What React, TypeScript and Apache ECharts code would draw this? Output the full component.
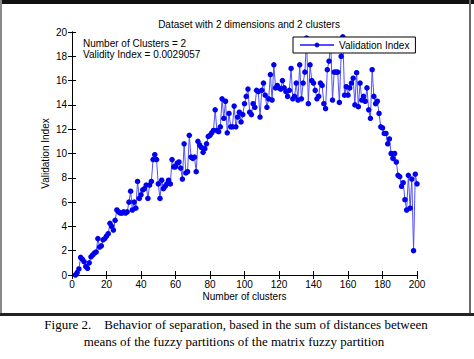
import React, { useEffect, useRef } from "react";
import * as echarts from "echarts";

const titleText = "Dataset with 2 dimensions and 2 clusters";
const seriesName = "Validation Index";
const xAxisName = "Number of clusters";
const yAxisName = "Validation Index";
const noteLines = ["Number of Clusters = 2", "Validity Index = 0.0029057"];
const captionLines = [
  "Figure 2.    Behavior of separation, based in the sum of distances between",
  "means of the fuzzy partitions of the matrix fuzzy partition",
];
const xStart = 2;
// values for number of clusters 2..200
const validationValues = [
  0.0, 0.2, 0.5, 1.45, 1.3, 1.1, 0.7, 0.55, 1.0, // 2-10
  1.5, 1.65, 1.8, 1.9, 3.0, 2.3, 2.4, 2.9, 3.0, 3.2, // 11-20
  3.4, 4.25, 4.0, 3.7, 4.5, 5.35, 5.2, 5.1, 5.1, 5.2, // 21-30
  5.1, 5.2, 6.0, 6.9, 5.35, 6.0, 5.5, 7.7, 6.3, 6.6, // 31-40
  7.0, 7.1, 7.4, 6.3, 7.4, 7.7, 9.5, 9.9, 9.5, 7.5, // 41-50
  6.3, 7.8, 7.1, 7.3, 7.5, 7.8, 7.5, 9.5, 8.9, 8.9, // 51-60
  9.2, 9.3, 8.8, 7.9, 10.8, 8.4, 8.5, 11.5, 9.7, 9.6, // 61-70
  9.7, 8.5, 11.0, 10.7, 10.5, 10.1, 10.4, 10.8, 11.4, 11.5, // 71-80
  11.7, 11.9, 13.6, 11.9, 11.8, 12.2, 14.5, 12.9, 14.3, 11.7, // 81-90
  13.3, 12.2, 12.2, 13.9, 12.2, 13.0, 13.4, 12.6, 13.2, 14.1, // 91-100
  14.7, 15.3, 13.4, 13.2, 14.1, 13.8, 15.2, 15.1, 13.0, 15.2, // 101-110
  15.8, 14.8, 13.8, 14.5, 16.5, 14.4, 17.3, 15.4, 15.6, 15.4, // 111-120
  15.3, 16.0, 15.4, 15.1, 14.7, 15.2, 17.0, 14.5, 14.7, 15.8, // 121-130
  14.4, 17.3, 14.5, 15.8, 16.7, 19.5, 14.1, 17.3, 16.0, 15.8, // 131-140
  15.2, 14.5, 14.7, 15.8, 15.6, 14.1, 13.7, 16.9, 17.6, 19.2, // 141-150
  14.4, 16.7, 16.7, 16.7, 14.2, 18.0, 19.6, 14.8, 15.5, 14.8, // 151-160
  15.4, 15.8, 16.2, 14.0, 16.65, 13.85, 15.8, 14.4, 14.7, 14.3, // 161-170
  15.4, 13.6, 12.9, 16.9, 14.7, 14.1, 14.3, 13.3, 12.2, 12.1, // 171-180
  11.65, 11.65, 10.8, 11.2, 10.0, 9.6, 10.0, 9.3, 8.2, 8.1, // 181-190
  7.3, 7.6, 6.2, 5.35, 8.2, 5.5, 7.9, 2.0, 8.3, 7.5, // 191-200
];

export default function App() {
  const ref = useRef<HTMLDivElement>(null);
  useEffect(() => {
    document.body.style.margin = "0";
    const chart = echarts.init(ref.current!, null, { renderer: "svg" });
    const data = validationValues.map((v, i) => [xStart + i, v]);
    const font = "Liberation Sans, Arial, sans-serif";
    const axisCommon = {
      min: 0,
      axisLine: { show: true, lineStyle: { color: "#000", width: 1 } },
      axisTick: { show: true, inside: true, length: 4, lineStyle: { color: "#000" } },
      splitLine: { show: false },
    };
    chart.setOption({
      animation: false,
      backgroundColor: "#fff",
      textStyle: { fontFamily: font },
      title: {
        text: titleText,
        left: 244,
        top: 14,
        textAlign: "center",
        textStyle: { fontSize: 10, fontWeight: "normal", color: "#000", fontFamily: font },
      },
      grid: { left: 72, right: 57, top: 32, bottom: 84, containLabel: false },
      legend: {
        data: [seriesName],
        left: 293,
        top: 37,
        width: 122,
        height: 16,
        padding: [3, 6, 3, 6],
        itemWidth: 34,
        itemHeight: 6,
        itemGap: 4,
        borderColor: "#000",
        borderWidth: 1,
        backgroundColor: "#fff",
        borderRadius: 0,
        textStyle: { fontSize: 10, color: "#000", fontFamily: font },
      },
      xAxis: [
        {
          ...axisCommon,
          type: "value",
          max: 200,
          interval: 20,
          name: xAxisName,
          nameLocation: "middle",
          nameGap: 16,
          nameMoveOverlap: false,
          nameTextStyle: { fontSize: 10, color: "#000", fontFamily: font },
          axisLabel: { fontSize: 10, color: "#000", margin: 4, fontFamily: font },
        },
        {
          ...axisCommon,
          type: "value",
          position: "top",
          max: 200,
          interval: 20,
          axisLabel: { show: false },
        },
      ],
      yAxis: [
        {
          ...axisCommon,
          type: "value",
          max: 20,
          interval: 2,
          name: yAxisName,
          nameLocation: "middle",
          nameGap: 22,
          nameMoveOverlap: false,
          nameTextStyle: { fontSize: 10, color: "#000", fontFamily: font },
          axisLabel: { fontSize: 10, color: "#000", margin: 5, fontFamily: font },
        },
        {
          ...axisCommon,
          type: "value",
          position: "right",
          max: 20,
          interval: 2,
          axisLabel: { show: false },
        },
      ],
      series: [
        {
          name: seriesName,
          type: "line",
          data,
          symbol: "circle",
          symbolSize: 5.5,
          showSymbol: true,
          clip: true,
          lineStyle: { color: "#5050ff", width: 1 },
          itemStyle: { color: "#0000ee" },
          z: 2,
        },
      ],
      graphic: [
        { type: "rect", shape: { x: 0, y: 0, width: 474, height: 4 }, style: { fill: "#111" }, z: 100 },
        { type: "rect", shape: { x: 0, y: 0, width: 2, height: 316 }, style: { fill: "#8a8a8a" }, z: 100 },
        { type: "rect", shape: { x: 469, y: 0, width: 2, height: 316 }, style: { fill: "#6a6a6a" }, z: 100 },
        { type: "rect", shape: { x: 0, y: 313, width: 474, height: 3 }, style: { fill: "#222" }, z: 100 },
        {
          type: "text",
          left: 83,
          top: 38,
          z: 100,
          style: { text: noteLines[0], fontSize: 10, fill: "#000", fontFamily: font },
        },
        {
          type: "text",
          left: 83,
          top: 49,
          z: 100,
          style: { text: noteLines[1], fontSize: 10, fill: "#000", fontFamily: font },
        },
        {
          type: "text",
          x: 236,
          y: 324,
          z: 100,
          style: {
            text: captionLines[0],
            fontSize: 13,
            fill: "#000",
            align: "center",
            verticalAlign: "middle",
            fontFamily: "Liberation Serif, Times New Roman, serif",
          },
        },
        {
          type: "text",
          x: 234,
          y: 341,
          z: 100,
          style: {
            text: captionLines[1],
            fontSize: 13,
            fill: "#000",
            align: "center",
            verticalAlign: "middle",
            fontFamily: "Liberation Serif, Times New Roman, serif",
          },
        },
      ],
    });
    return () => chart.dispose();
  }, []);
  return <div ref={ref} style={{ width: 474, height: 359 }} />;
}
